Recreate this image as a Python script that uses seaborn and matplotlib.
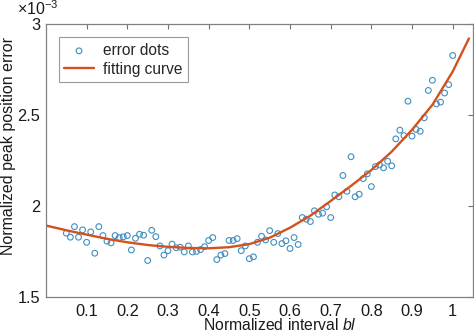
import numpy as np
import pandas as pd
import matplotlib
matplotlib.use("Agg")
import matplotlib.pyplot as plt
import seaborn as sns

# error dots (normalized interval, error in units of 1e-3)
dot_x = [0.05, 0.06, 0.07, 0.08, 0.09, 0.10, 0.11, 0.12, 0.13, 0.14,
         0.15, 0.16, 0.17, 0.18, 0.19, 0.20, 0.21, 0.22, 0.23, 0.24,
         0.25, 0.26, 0.27, 0.28, 0.29, 0.30, 0.31, 0.32, 0.33, 0.34,
         0.35, 0.36, 0.37, 0.38, 0.39, 0.40, 0.41, 0.42, 0.43, 0.44,
         0.45, 0.46, 0.47, 0.48, 0.49, 0.50, 0.51, 0.52, 0.53, 0.54,
         0.55, 0.56, 0.57, 0.58, 0.59, 0.60, 0.61, 0.62, 0.63, 0.64,
         0.65, 0.66, 0.67, 0.68, 0.69, 0.70, 0.71, 0.72, 0.73, 0.74,
         0.75, 0.76, 0.77, 0.78, 0.79, 0.80, 0.81, 0.82, 0.83, 0.84,
         0.85, 0.86, 0.87, 0.88, 0.89, 0.90, 0.91, 0.92, 0.93, 0.94,
         0.95, 0.96, 0.97, 0.98, 0.99, 1.00]
dot_err = [1.850, 1.828, 1.886, 1.828, 1.868, 1.800, 1.857, 1.740, 1.886, 1.837,
           1.806, 1.797, 1.837, 1.826, 1.830, 1.837, 1.758, 1.822, 1.844, 1.839,
           1.700, 1.866, 1.831, 1.780, 1.730, 1.754, 1.790, 1.770, 1.773, 1.747,
           1.780, 1.747, 1.750, 1.760, 1.776, 1.810, 1.826, 1.705, 1.730, 1.738,
           1.810, 1.810, 1.820, 1.754, 1.780, 1.710, 1.720, 1.800, 1.833, 1.813,
           1.864, 1.800, 1.848, 1.793, 1.808, 1.766, 1.826, 1.788, 1.936, 1.927,
           1.914, 1.973, 1.954, 1.960, 1.995, 1.936, 2.060, 2.050, 2.167, 2.080,
           2.270, 2.050, 2.064, 2.150, 2.176, 2.106, 2.216, 2.225, 2.209, 2.245,
           2.220, 2.368, 2.416, 2.386, 2.575, 2.383, 2.420, 2.410, 2.484, 2.634,
           2.690, 2.560, 2.570, 2.620, 2.666, 2.826]

# fitting curve
fit_x = [0.00, 0.05, 0.10, 0.15, 0.20, 0.25, 0.30, 0.35, 0.40, 0.45, 0.50,
         0.55, 0.60, 0.65, 0.70, 0.75, 0.80, 0.85, 0.90, 0.95, 1.00, 1.04]
fit_err = [1.892, 1.866, 1.842, 1.819, 1.800, 1.785, 1.775, 1.769, 1.767, 1.773, 1.790,
           1.825, 1.880, 1.946, 2.027, 2.110, 2.197, 2.298, 2.418, 2.555, 2.738, 2.920]

x_ticks = [0.1, 0.2, 0.3, 0.4, 0.5, 0.6, 0.7, 0.8, 0.9, 1.0]
x_labels = ["0.1", "0.2", "0.3", "0.4", "0.5", "0.6", "0.7", "0.8", "0.9", "1"]
y_ticks = [1.5, 2.0, 2.5, 3.0]
y_labels = ["1.5", "2", "2.5", "3"]

sns.set_style("white")
plt.rcParams["font.family"] = ["Liberation Sans", "DejaVu Sans"]
plt.rcParams["mathtext.fontset"] = "custom"
plt.rcParams["mathtext.rm"] = "Liberation Sans"
plt.rcParams["mathtext.it"] = "Liberation Sans:italic"

dots = pd.DataFrame({"x": dot_x, "err": dot_err})
fit = pd.DataFrame({"x": fit_x, "err": fit_err})

fig = plt.figure(figsize=(4.74, 3.31), dpi=100)
ax = fig.add_axes([0.097, 0.103, 0.901, 0.825])

sns.scatterplot(data=dots, x="x", y="err", ax=ax, marker="o", s=17,
                facecolor="none", edgecolor="#3f8fc0", linewidth=0.8,
                label="error dots")
sns.lineplot(data=fit, x="x", y="err", ax=ax, color="#d4511e", linewidth=1.7,
             label="fitting curve")

ax.set_xlim(0, 1.05)
ax.set_ylim(1.5, 3.0)
ax.set_xticks(x_ticks)
ax.set_xticklabels(x_labels)
ax.set_yticks(y_ticks)
ax.set_yticklabels(y_labels)
ax.tick_params(direction="in", length=3.5, width=0.8, color="#707070",
               labelsize=11.8, top=True, right=True, pad=4, labelcolor="#1a1a1a")
ax.tick_params(axis="x", pad=5)
for sp in ax.spines.values():
    sp.set_color("#808080")
    sp.set_linewidth(0.9)

ax.set_xlabel("")
ax.set_ylabel("Normalized peak position error", fontsize=11.5, color="#1a1a1a")
ax.yaxis.set_label_coords(-0.071, 0.551)
fig.text(0.59, 0.041, r"Normalized interval $bl$", fontsize=11.3,
         ha="center", va="top", color="#1a1a1a")
fig.text(0.036, 0.955, r"$\times$10$^{-3}$", fontsize=11.5, ha="left",
         va="baseline", color="#1a1a1a")

leg = ax.legend(loc="upper left", bbox_to_anchor=(0.03, 0.95), fontsize=11.2,
                frameon=True, fancybox=False, edgecolor="#808080",
                handlelength=1.9, handletextpad=0.6, labelspacing=0.25,
                borderpad=0.35, borderaxespad=0)
leg.get_frame().set_linewidth(0.8)

fig.savefig("out.png", dpi=100)
